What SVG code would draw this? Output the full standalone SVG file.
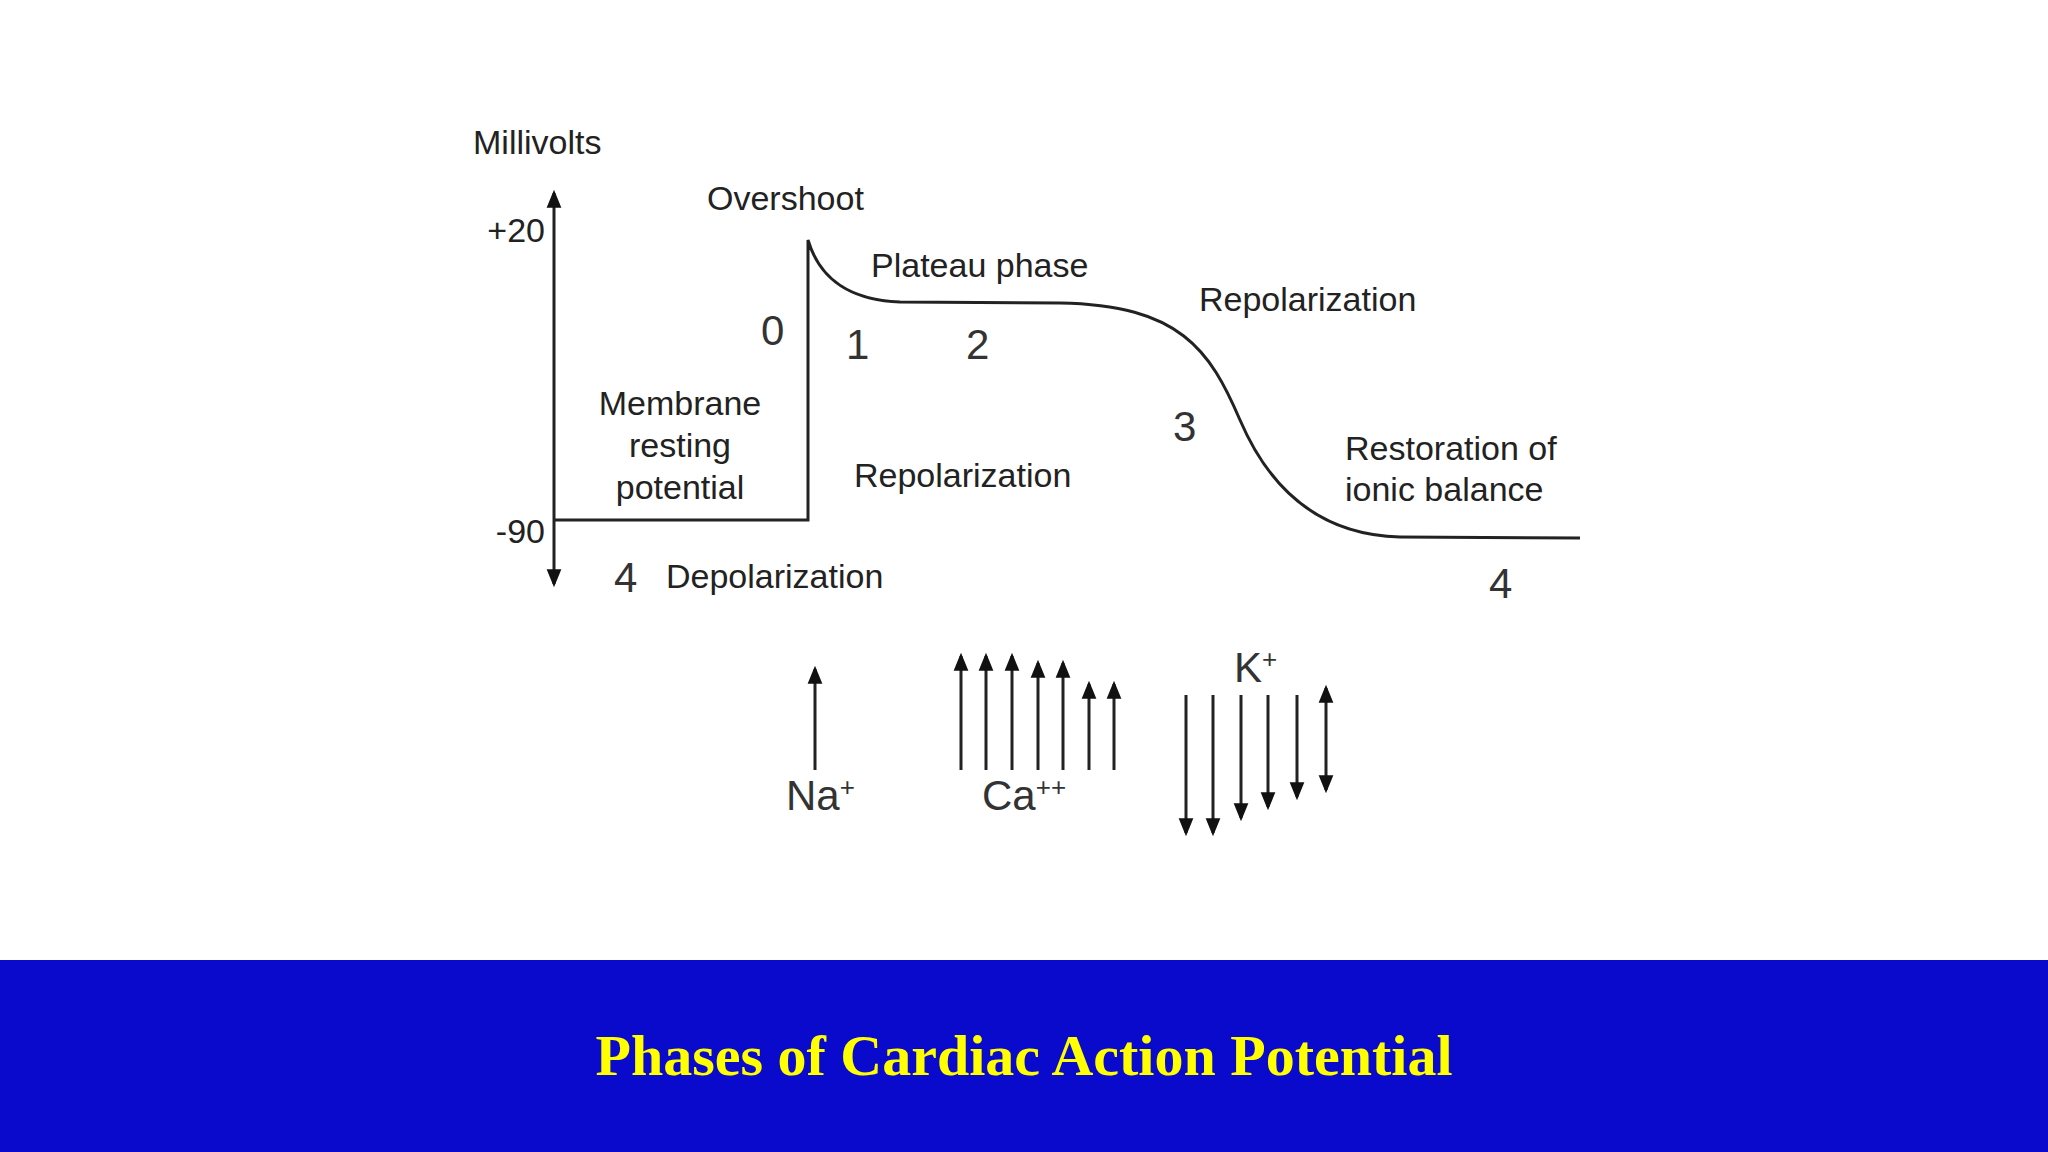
<svg xmlns="http://www.w3.org/2000/svg" width="2048" height="1152" viewBox="0 0 2048 1152">
<style>
.t{font-family:"Liberation Sans",Arial,sans-serif;font-size:34px;fill:#222}
.n{font-family:"Liberation Sans",Arial,sans-serif;font-size:42px;fill:#333}
.ln{stroke:#222;stroke-width:3;fill:none}
</style>
<defs>
<marker id="ah" markerUnits="userSpaceOnUse" markerWidth="18" markerHeight="22" refX="18" refY="9" orient="auto-start-reverse" viewBox="0 0 22 18">
<path d="M0,0 L22,9 L0,18 Z" fill="#111"/>
</marker>
</defs>
<rect width="2048" height="1152" fill="#fff"/>
<g id="axis">
<line class="ln" x1="554" y1="193" x2="554" y2="584" marker-start="url(#ah)" marker-end="url(#ah)"/>
<text class="t" x="473" y="154">Millivolts</text>
<text class="t" x="545" y="242" text-anchor="end">+20</text>
<text class="t" x="545" y="543" text-anchor="end">-90</text>
</g>
<g id="curve">
<path class="ln" d="M554,520 L808,520 L808,240 C820,280 850,300 900,302 L1060,303 C1180,305 1210,350 1240,420 C1270,490 1320,535 1400,537 L1580,538"/>
</g>
<g id="labels">
<text class="t" x="707" y="210">Overshoot</text>
<text class="t" x="871" y="277">Plateau phase</text>
<text class="n" x="761" y="345">0</text>
<text class="n" x="846" y="359">1</text>
<text class="n" x="966" y="359">2</text>
<text class="t" x="680" y="415" text-anchor="middle">Membrane</text>
<text class="t" x="680" y="457" text-anchor="middle">resting</text>
<text class="t" x="680" y="499" text-anchor="middle">potential</text>
<text class="t" x="854" y="487">Repolarization</text>
<text class="t" x="1199" y="311">Repolarization</text>
<text class="n" x="1173" y="441">3</text>
<text class="t" x="1345" y="460">Restoration of</text>
<text class="t" x="1345" y="501">ionic balance</text>
<text class="n" x="1489" y="598">4</text>
<text class="n" x="614" y="592">4</text>
<text class="t" x="666" y="588">Depolarization</text>
</g>
<g id="ions">
<line class="ln" x1="815" y1="770" x2="815" y2="669" marker-end="url(#ah)"/>
<text class="n" x="786" y="810">Na<tspan font-size="26" dy="-14">+</tspan></text>
<line class="ln" x1="961" y1="770" x2="961" y2="656" marker-end="url(#ah)"/>
<line class="ln" x1="986" y1="770" x2="986" y2="656" marker-end="url(#ah)"/>
<line class="ln" x1="1012" y1="770" x2="1012" y2="656" marker-end="url(#ah)"/>
<line class="ln" x1="1038" y1="770" x2="1038" y2="663" marker-end="url(#ah)"/>
<line class="ln" x1="1063" y1="770" x2="1063" y2="663" marker-end="url(#ah)"/>
<line class="ln" x1="1089" y1="770" x2="1089" y2="684" marker-end="url(#ah)"/>
<line class="ln" x1="1114" y1="770" x2="1114" y2="684" marker-end="url(#ah)"/>
<text class="n" x="982" y="810">Ca<tspan font-size="26" dy="-14">++</tspan></text>
<text class="n" x="1234" y="682">K<tspan font-size="26" dy="-14">+</tspan></text>
<line class="ln" x1="1186" y1="695" x2="1186" y2="833" marker-end="url(#ah)"/>
<line class="ln" x1="1213" y1="695" x2="1213" y2="833" marker-end="url(#ah)"/>
<line class="ln" x1="1241" y1="695" x2="1241" y2="818" marker-end="url(#ah)"/>
<line class="ln" x1="1268" y1="695" x2="1268" y2="807" marker-end="url(#ah)"/>
<line class="ln" x1="1297" y1="695" x2="1297" y2="797" marker-end="url(#ah)"/>
<line class="ln" x1="1326" y1="688" x2="1326" y2="790" marker-start="url(#ah)" marker-end="url(#ah)"/>
</g>
<g id="banner">
<rect x="0" y="960" width="2048" height="192" fill="#0a0acc"/>
<text x="1024" y="1075" text-anchor="middle" font-family="Liberation Serif,Times New Roman,serif" font-weight="bold" font-size="58" fill="#ffff00">Phases of Cardiac Action Potential</text>
</g>
</svg>
